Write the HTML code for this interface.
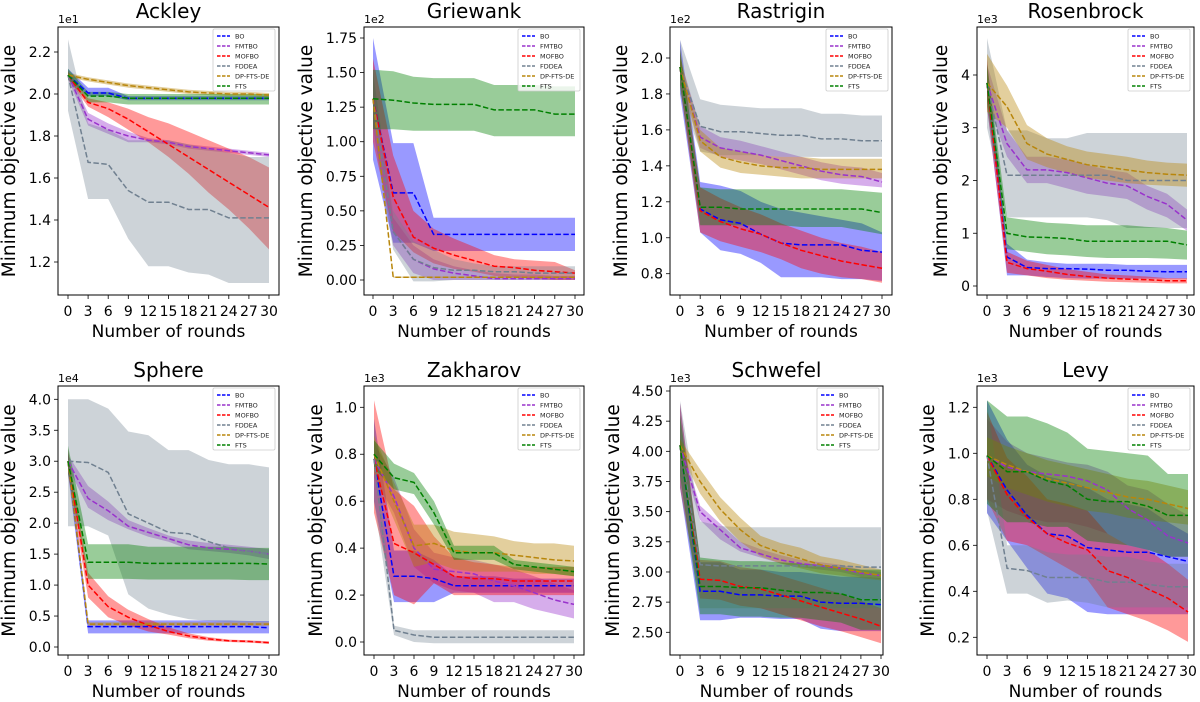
<!DOCTYPE html>
<html><head><meta charset="utf-8">
<style>
html,body{margin:0;padding:0;background:#fff;}
svg{display:block;font-family:"DejaVu Sans","Liberation Sans",sans-serif;}
</style></head>
<body>
<svg id="fig" width="1200" height="702" viewBox="0 0 1200 702" xmlns="http://www.w3.org/2000/svg"></svg>
<script>
const rounds = [0,3,6,9,12,15,18,21,24,27,30];
const seriesNames = ["BO","FMTBO","MOFBO","FDDEA","DP-FTS-DE","FTS"];
// Ackley (1e1)
const ackley_mean = [[2.09,2.005,2.005,1.98,1.98,1.98,1.98,1.98,1.98,1.98,1.98],[2.09,1.88,1.83,1.80,1.78,1.77,1.75,1.74,1.73,1.72,1.71],[2.09,1.96,1.93,1.88,1.82,1.76,1.70,1.64,1.58,1.52,1.46],[2.09,1.675,1.665,1.54,1.485,1.485,1.45,1.45,1.41,1.41,1.41],[2.09,2.07,2.055,2.04,2.03,2.02,2.01,2.005,2.0,2.0,1.995],[2.09,1.99,1.99,1.98,1.98,1.98,1.98,1.98,1.98,1.98,1.98]];
const ackley_lo = [[2.07,1.99,1.99,1.97,1.97,1.97,1.97,1.97,1.97,1.97,1.97],[2.07,1.85,1.81,1.77,1.77,1.76,1.74,1.73,1.72,1.71,1.70],[2.07,1.94,1.89,1.83,1.77,1.70,1.62,1.53,1.45,1.36,1.26],[1.92,1.50,1.50,1.31,1.18,1.18,1.15,1.14,1.10,1.10,1.10],[2.08,2.06,2.045,2.03,2.02,2.01,2.0,1.995,1.99,1.99,1.985],[2.07,1.96,1.96,1.95,1.95,1.95,1.95,1.95,1.95,1.95,1.95]];
const ackley_hi = [[2.12,2.03,2.03,1.99,1.99,1.99,1.99,1.99,1.99,1.99,1.99],[2.11,1.91,1.86,1.82,1.79,1.78,1.76,1.75,1.74,1.73,1.72],[2.11,1.98,1.96,1.93,1.89,1.86,1.82,1.78,1.74,1.70,1.65],[2.26,1.86,1.83,1.78,1.78,1.78,1.76,1.74,1.72,1.70,1.70],[2.10,2.08,2.065,2.05,2.04,2.03,2.02,2.015,2.01,2.01,2.005],[2.12,2.01,2.01,2.0,2.0,2.0,2.0,2.0,2.0,2.0,2.0]];
// Griewank (1e2)
const griewank_mean = [[1.31,0.63,0.63,0.33,0.33,0.33,0.33,0.33,0.33,0.33,0.33],[1.31,0.35,0.15,0.08,0.05,0.03,0.01,0.01,0.01,0.01,0.01],[1.31,0.60,0.31,0.23,0.18,0.14,0.10,0.09,0.07,0.06,0.05],[1.31,0.35,0.15,0.09,0.07,0.07,0.06,0.06,0.05,0.05,0.05],[1.31,0.02,0.02,0.02,0.02,0.02,0.02,0.02,0.02,0.02,0.02],[1.31,1.30,1.28,1.27,1.27,1.27,1.23,1.23,1.23,1.20,1.20]];
const griewank_lo = [[0.87,0.27,0.27,0.21,0.21,0.21,0.21,0.21,0.21,0.21,0.21],[1.1,0.25,0.05,0,0,0,0,0,0,0,0],[1.0,0.35,0.2,0.12,0.08,0.06,0.03,0.02,0.01,0.0,0.0],[1.1,0.22,-0.01,-0.01,0,0,0,0,0,0,0],[1.30,0.015,0.015,0.015,0.015,0.015,0.015,0.015,0.015,0.015,0.015],[1.09,1.09,1.08,1.08,1.08,1.08,1.04,1.04,1.04,1.04,1.04]];
const griewank_hi = [[1.75,0.99,0.99,0.45,0.45,0.45,0.45,0.45,0.45,0.45,0.45],[1.5,0.45,0.25,0.15,0.1,0.07,0.05,0.04,0.04,0.03,0.03],[1.6,0.9,0.5,0.37,0.30,0.24,0.18,0.15,0.14,0.13,0.07],[1.5,0.5,0.28,0.22,0.15,0.12,0.10,0.1,0.1,0.1,0.1],[1.32,0.025,0.025,0.025,0.025,0.025,0.025,0.025,0.025,0.025,0.025],[1.52,1.51,1.47,1.46,1.46,1.46,1.41,1.41,1.41,1.40,1.40]];
// Rastrigin (1e2)
const rastrigin_mean = [[1.95,1.16,1.10,1.08,1.02,0.97,0.96,0.96,0.96,0.93,0.92],[1.95,1.56,1.50,1.48,1.46,1.43,1.40,1.37,1.35,1.34,1.31],[1.95,1.15,1.09,1.05,1.02,0.97,0.93,0.90,0.87,0.85,0.83],[1.95,1.62,1.59,1.59,1.58,1.57,1.57,1.55,1.55,1.54,1.54],[1.95,1.54,1.45,1.42,1.40,1.39,1.39,1.38,1.38,1.38,1.38],[1.95,1.17,1.17,1.16,1.16,1.16,1.16,1.16,1.16,1.16,1.14]];
const rastrigin_lo = [[1.8,1.03,0.93,0.91,0.86,0.78,0.78,0.78,0.77,0.77,0.76],[1.9,1.50,1.45,1.43,1.41,1.38,1.35,1.32,1.30,1.29,1.28],[1.85,1.03,0.98,0.95,0.92,0.88,0.83,0.80,0.78,0.77,0.75],[1.8,1.48,1.46,1.46,1.46,1.45,1.45,1.45,1.45,1.45,1.45],[1.9,1.48,1.39,1.36,1.35,1.34,1.33,1.33,1.33,1.33,1.33],[1.85,1.07,1.07,1.07,1.07,1.07,1.06,1.06,1.06,1.04,1.02]];
const rastrigin_hi = [[2.1,1.31,1.29,1.26,1.2,1.16,1.14,1.12,1.1,1.08,1.03],[2.0,1.62,1.56,1.54,1.51,1.48,1.45,1.42,1.40,1.39,1.36],[2.05,1.28,1.22,1.17,1.13,1.08,1.04,1.0,0.97,0.95,0.92],[2.1,1.77,1.74,1.73,1.72,1.72,1.72,1.69,1.69,1.68,1.68],[2.0,1.60,1.50,1.48,1.46,1.45,1.45,1.44,1.44,1.44,1.44],[2.05,1.28,1.27,1.27,1.27,1.27,1.27,1.27,1.27,1.26,1.25]];
// Rosenbrock (1e3)
const rosen_mean = [[3.85,0.55,0.35,0.33,0.33,0.32,0.30,0.30,0.28,0.27,0.27],[3.85,2.7,2.2,2.2,2.15,2.05,1.95,1.9,1.7,1.55,1.25],[3.85,0.45,0.33,0.28,0.22,0.18,0.15,0.13,0.12,0.10,0.10],[3.85,2.1,2.1,2.1,2.1,2.1,2.1,2.0,2.0,2.0,2.0],[3.85,3.4,2.7,2.5,2.4,2.3,2.25,2.2,2.15,2.12,2.1],[3.85,1.0,0.93,0.92,0.9,0.85,0.85,0.85,0.85,0.85,0.78]];
const rosen_lo = [[3.4,0.2,0.2,0.17,0.15,0.14,0.14,0.14,0.14,0.14,0.14],[3.5,2.45,1.95,1.95,1.85,1.75,1.7,1.65,1.45,1.3,1.05],[3.4,0.25,0.2,0.15,0.12,0.1,0.08,0.07,0.06,0.05,0.05],[3.0,1.3,1.3,1.3,1.3,1.3,1.25,1.1,1.1,1.1,1.1],[3.3,3.0,2.4,2.25,2.15,2.05,2.0,1.95,1.92,1.9,1.88],[3.5,0.7,0.65,0.6,0.58,0.55,0.53,0.53,0.53,0.52,0.5]];
const rosen_hi = [[4.3,0.8,0.5,0.45,0.42,0.42,0.42,0.4,0.4,0.4,0.4],[4.2,2.95,2.45,2.45,2.4,2.3,2.2,2.15,1.9,1.75,1.45],[4.3,0.65,0.48,0.4,0.32,0.27,0.22,0.2,0.18,0.15,0.15],[4.7,2.95,2.95,2.8,2.8,2.9,2.9,2.9,2.9,2.9,2.9],[4.4,3.8,3.05,2.8,2.65,2.55,2.5,2.45,2.38,2.34,2.32],[4.2,1.3,1.25,1.2,1.18,1.15,1.15,1.15,1.12,1.1,1.05]];
// Sphere (1e4)
const sphere_mean = [[3.0,0.33,0.33,0.33,0.33,0.33,0.33,0.33,0.33,0.33,0.31],[3.0,2.4,2.2,1.95,1.85,1.75,1.65,1.6,1.58,1.55,1.5],[3.0,1.0,0.65,0.48,0.35,0.25,0.18,0.13,0.1,0.09,0.07],[3.0,2.98,2.82,2.15,2.0,1.85,1.83,1.7,1.6,1.55,1.5],[3.0,0.37,0.37,0.37,0.37,0.37,0.37,0.37,0.37,0.37,0.37],[3.0,1.37,1.37,1.37,1.35,1.35,1.35,1.35,1.35,1.35,1.34]];
const sphere_lo = [[2.8,0.22,0.22,0.22,0.22,0.22,0.22,0.22,0.22,0.22,0.22],[2.9,2.25,2.05,1.9,1.78,1.7,1.58,1.55,1.52,1.48,1.42],[2.8,0.8,0.48,0.35,0.25,0.2,0.14,0.1,0.08,0.07,0.05],[1.95,1.95,1.8,0.85,0.62,0.52,0.45,0.42,0.4,0.4,0.4],[2.97,0.34,0.34,0.34,0.34,0.34,0.34,0.34,0.34,0.34,0.34],[2.8,1.1,1.1,1.1,1.09,1.09,1.09,1.09,1.09,1.08,1.08]];
const sphere_hi = [[3.2,0.43,0.43,0.43,0.43,0.43,0.43,0.43,0.43,0.42,0.42],[3.1,2.6,2.35,2.05,1.92,1.8,1.72,1.68,1.65,1.62,1.58],[3.2,1.2,0.82,0.6,0.45,0.32,0.22,0.16,0.12,0.11,0.09],[4.0,4.0,3.85,3.48,3.42,3.18,3.18,3.02,2.95,2.95,2.9],[3.03,0.40,0.40,0.40,0.40,0.40,0.40,0.40,0.40,0.40,0.40],[3.25,1.66,1.66,1.66,1.62,1.62,1.62,1.62,1.62,1.6,1.6]];
// Zakharov (1e3)
const zak_mean = [[0.78,0.28,0.28,0.27,0.24,0.24,0.24,0.24,0.24,0.24,0.24],[0.78,0.62,0.4,0.31,0.3,0.29,0.26,0.24,0.21,0.18,0.16],[0.78,0.42,0.38,0.33,0.28,0.27,0.27,0.26,0.26,0.26,0.26],[0.78,0.05,0.03,0.02,0.02,0.02,0.02,0.02,0.02,0.02,0.02],[0.8,0.6,0.41,0.42,0.39,0.38,0.38,0.37,0.36,0.35,0.345],[0.8,0.7,0.68,0.55,0.38,0.38,0.38,0.33,0.32,0.31,0.30]];
const zak_lo = [[0.6,0.17,0.17,0.17,0.21,0.21,0.21,0.21,0.21,0.21,0.21],[0.7,0.55,0.32,0.25,0.22,0.21,0.17,0.17,0.14,0.12,0.1],[0.55,0.2,0.16,0.25,0.2,0.2,0.2,0.2,0.2,0.2,0.2],[0.6,0.03,0,-0.005,-0.005,-0.005,-0.005,-0.005,-0.005,-0.005,-0.005],[0.72,0.52,0.32,0.34,0.31,0.3,0.3,0.3,0.29,0.29,0.28],[0.74,0.65,0.63,0.5,0.35,0.35,0.35,0.31,0.3,0.29,0.28]];
const zak_hi = [[0.95,0.39,0.39,0.35,0.28,0.28,0.28,0.27,0.27,0.27,0.27],[0.85,0.7,0.48,0.38,0.36,0.35,0.33,0.31,0.28,0.25,0.22],[1.03,0.65,0.58,0.45,0.36,0.34,0.33,0.32,0.32,0.32,0.32],[0.95,0.07,0.05,0.05,0.05,0.05,0.05,0.05,0.05,0.05,0.05],[0.88,0.68,0.5,0.5,0.47,0.46,0.45,0.43,0.42,0.42,0.41],[0.86,0.76,0.72,0.6,0.41,0.41,0.41,0.35,0.34,0.33,0.32]];
// Schwefel (1e3)
const schw_mean = [[4.05,2.84,2.84,2.81,2.81,2.80,2.80,2.75,2.74,2.74,2.73],[4.05,3.5,3.35,3.2,3.15,3.1,3.07,3.05,3.03,2.99,2.97],[4.05,2.94,2.93,2.88,2.86,2.81,2.76,2.71,2.66,2.61,2.55],[4.05,3.06,3.05,3.05,3.05,3.05,3.05,3.05,3.05,3.04,3.04],[4.05,3.75,3.52,3.35,3.22,3.16,3.11,3.06,3.03,3.0,2.97],[4.05,2.88,2.88,2.87,2.87,2.85,2.83,2.83,2.82,2.77,2.77]];
const schw_lo = [[3.7,2.6,2.6,2.62,2.62,2.61,2.61,2.53,2.51,2.51,2.51],[4.0,3.43,3.27,3.17,3.12,3.07,3.04,3.02,3.0,2.96,2.94],[3.7,2.78,2.77,2.72,2.7,2.65,2.6,2.55,2.51,2.46,2.41],[3.7,2.7,2.7,2.7,2.7,2.7,2.7,2.7,2.7,2.7,2.7],[4.0,3.65,3.42,3.25,3.13,3.07,3.03,2.99,2.97,2.95,2.93],[3.8,2.65,2.65,2.63,2.63,2.62,2.62,2.6,2.58,2.52,2.52]];
const schw_hi = [[4.4,3.08,3.08,3.02,3.02,3.0,3.0,2.98,2.96,2.96,2.95],[4.1,3.55,3.4,3.25,3.19,3.14,3.1,3.08,3.06,3.02,3.0],[4.4,3.1,3.09,3.04,3.02,2.97,2.92,2.87,2.82,2.76,2.7],[4.42,3.42,3.38,3.37,3.37,3.37,3.37,3.37,3.37,3.37,3.37],[4.1,3.85,3.62,3.45,3.3,3.24,3.2,3.13,3.1,3.06,3.02],[4.3,3.12,3.1,3.09,3.09,3.08,3.07,3.06,3.04,3.02,3.02]];
// Levy (1e3)
const levy_mean = [[0.99,0.84,0.73,0.65,0.64,0.59,0.58,0.57,0.57,0.55,0.53],[0.99,0.94,0.92,0.91,0.9,0.88,0.84,0.76,0.71,0.64,0.61],[0.99,0.82,0.72,0.65,0.61,0.58,0.49,0.46,0.41,0.37,0.31],[0.99,0.5,0.49,0.46,0.46,0.46,0.44,0.44,0.43,0.42,0.42],[0.99,0.95,0.92,0.89,0.87,0.85,0.83,0.81,0.8,0.78,0.76],[0.99,0.92,0.92,0.88,0.86,0.8,0.79,0.79,0.77,0.73,0.73]];
const levy_lo = [[0.74,0.62,0.5,0.39,0.37,0.31,0.3,0.3,0.3,0.3,0.3],[0.8,0.75,0.72,0.7,0.7,0.68,0.65,0.6,0.58,0.55,0.55],[0.8,0.62,0.6,0.55,0.5,0.45,0.33,0.3,0.27,0.23,0.18],[0.75,0.39,0.39,0.35,0.36,0.35,0.33,0.33,0.33,0.33,0.33],[0.9,0.85,0.82,0.79,0.77,0.75,0.74,0.72,0.71,0.7,0.69],[0.78,0.7,0.7,0.68,0.68,0.62,0.61,0.6,0.58,0.55,0.55]];
const levy_hi = [[1.23,1.06,0.95,0.9,0.88,0.85,0.8,0.78,0.76,0.7,0.65],[1.15,1.05,1.0,0.98,0.96,0.95,0.92,0.86,0.84,0.78,0.73],[1.18,0.98,0.9,0.8,0.78,0.75,0.65,0.6,0.58,0.52,0.45],[1.23,0.6,0.6,0.57,0.56,0.56,0.55,0.55,0.53,0.52,0.52],[1.07,1.03,1.0,0.97,0.95,0.93,0.91,0.89,0.88,0.86,0.84],[1.23,1.16,1.16,1.13,1.09,1.02,1.01,1.0,0.99,0.91,0.91]];

const colors = ["#0000ff","#9932cc","#ff0000","#708090","#b8860b","#008000"];
const fillOp = [0.4,0.4,0.4,0.35,0.4,0.4];

const NS = "http://www.w3.org/2000/svg";
const fig = document.getElementById("fig");
function mk(tag, attrs, parent){
  const e = document.createElementNS(NS, tag);
  for (const k in attrs) e.setAttribute(k, attrs[k]);
  (parent||fig).appendChild(e);
  return e;
}

const panels = [
 {name:"ackley", title:"Ackley", exp:"1e1", L:58,R:279,T:27,B:295, x0:68,x1:269, v1:2.2,p1:52,v2:1.2,p2:262, ticks:[1.2,1.4,1.6,1.8,2.0,2.2], dec:1, labC:9, mean:ackley_mean, lo:ackley_lo, hi:ackley_hi},
 {name:"griewank", title:"Griewank", exp:"1e2", L:364,R:584,T:27,B:295, x0:373,x1:575, v1:1.75,p1:38,v2:0,p2:280, ticks:[0,0.25,0.5,0.75,1.0,1.25,1.5,1.75], dec:2, labC:306, mean:griewank_mean, lo:griewank_lo, hi:griewank_hi},
 {name:"rastrigin", title:"Rastrigin", exp:"1e2", L:670,R:892,T:27,B:295, x0:680,x1:882, v1:2.0,p1:58,v2:0.8,p2:273.7, ticks:[0.8,1.0,1.2,1.4,1.6,1.8,2.0], dec:1, labC:621, mean:rastrigin_mean, lo:rastrigin_lo, hi:rastrigin_hi},
 {name:"rosenbrock", title:"Rosenbrock", exp:"1e3", L:977,R:1194,T:27,B:295, x0:987,x1:1187, v1:4,p1:75,v2:0,p2:286, ticks:[0,1,2,3,4], dec:0, labC:941, mean:rosen_mean, lo:rosen_lo, hi:rosen_hi},
 {name:"sphere", title:"Sphere", exp:"1e4", L:58,R:279,T:386,B:655, x0:68,x1:269, v1:4.0,p1:399.3,v2:0,p2:647, ticks:[0,0.5,1.0,1.5,2.0,2.5,3.0,3.5,4.0], dec:1, labC:9, mean:sphere_mean, lo:sphere_lo, hi:sphere_hi},
 {name:"zakharov", title:"Zakharov", exp:"1e3", L:364,R:584,T:386,B:655, x0:374,x1:574, v1:1.0,p1:407.3,v2:0,p2:642, ticks:[0,0.2,0.4,0.6,0.8,1.0], dec:1, labC:316, mean:zak_mean, lo:zak_lo, hi:zak_hi},
 {name:"schwefel", title:"Schwefel", exp:"1e3", L:670,R:883,T:386,B:655, x0:680,x1:881, v1:4.5,p1:391,v2:2.5,p2:632.3, ticks:[2.5,2.75,3.0,3.25,3.5,3.75,4.0,4.25,4.5], dec:2, labC:613, mean:schw_mean, lo:schw_lo, hi:schw_hi},
 {name:"levy", title:"Levy", exp:"1e3", L:977,R:1194,T:386,B:655, x0:987,x1:1188, v1:1.2,p1:407.3,v2:0.2,p2:637.3, ticks:[0.2,0.4,0.6,0.8,1.0,1.2], dec:1, labC:928, mean:levy_mean, lo:levy_lo, hi:levy_hi}
];

panels.forEach(P => {
  const g = mk("g", {});
  
  
  const xs = v => P.x0 + (v - 0) / 30 * (P.x1 - P.x0);
  const ys = v => P.p1 + (v - P.v1) / (P.v2 - P.v1) * (P.p2 - P.p1);
  const clipId = "clip-" + P.name;
  const cp = mk("clipPath", {id: clipId}, g);
  mk("rect", {x:P.L, y:P.T, width:P.R-P.L, height:P.B-P.T}, cp);
  const plot = mk("g", {"clip-path":"url(#"+clipId+")"}, g);
  for (let s = 0; s < 6; s++) {
    let d = "";
    rounds.forEach((r,i) => { d += (i?"L":"M") + xs(r).toFixed(1) + "," + ys(P.hi[s][i]).toFixed(1); });
    for (let i = rounds.length-1; i >= 0; i--) d += "L" + xs(rounds[i]).toFixed(1) + "," + ys(P.lo[s][i]).toFixed(1);
    const band = mk("path", {d: d+"Z", fill: colors[s], "fill-opacity": fillOp[s], stroke: "none"}, plot);
    
    
  }
  for (let s = 0; s < 6; s++) {
    const pts = rounds.map((r,i) => xs(r).toFixed(1) + "," + ys(P.mean[s][i]).toFixed(1)).join(" ");
    const ln = mk("polyline", {points: pts, fill:"none", stroke: colors[s], "stroke-width":1.5, "stroke-dasharray":"5.5,2.4"}, plot);
    
    
  }
  const frame = mk("rect", {x:P.L, y:P.T, width:P.R-P.L, height:P.B-P.T, fill:"none", stroke:"#000", "stroke-width":1}, g);
  
  
  rounds.forEach(r => {
    const x = xs(r);
    mk("line", {x1:x, y1:P.B, x2:x, y2:P.B+4, stroke:"#000", "stroke-width":0.8}, g);
    const t = mk("text", {x:x, y:P.B+21, "text-anchor":"middle", "font-size":14, fill:"#000"}, g);
    t.textContent = r;
    
    
  });
  P.ticks.forEach(v => {
    const y = ys(v);
    mk("line", {x1:P.L-4, y1:y, x2:P.L, y2:y, stroke:"#000", "stroke-width":0.8}, g);
    const t = mk("text", {x:P.L-7, y:y+5, "text-anchor":"end", "font-size":14, fill:"#000"}, g);
    t.textContent = v.toFixed(P.dec);
    
    
  });
  const ex = mk("text", {x:P.L, y:P.T-4, "font-size":11, fill:"#000"}, g);
  ex.textContent = P.exp;
  
  
  const ti = mk("text", {x:(P.L+P.R)/2, y:P.T-9, "text-anchor":"middle", "font-size":20, fill:"#000"}, g);
  ti.textContent = P.title;
  
  
  const xl = mk("text", {x:(P.L+P.R)/2, y:P.B+42, "text-anchor":"middle", "font-size":17, fill:"#000"}, g);
  xl.textContent = "Number of rounds";
  
  
  const cy = (P.T+P.B)/2;
  const yl = mk("text", {x:P.labC, y:cy+6, "text-anchor":"middle", "font-size":18.5, fill:"#000", transform:"rotate(-90 "+P.labC+" "+cy+")"}, g);
  yl.textContent = "Minimum objective value";
  
  
  const lg = mk("g", {}, g);
  
  
  const lx = P.R - 66, ly = P.T + 2;
  mk("rect", {x:lx, y:ly, width:62, height:62, fill:"#fff", "fill-opacity":0.8, stroke:"#ccc", "stroke-width":0.8, rx:1.5}, lg);
  seriesNames.forEach((n, s) => {
    const yy = ly + 7 + s*10;
    mk("line", {x1:lx+4, y1:yy, x2:lx+17, y2:yy, stroke:colors[s], "stroke-width":1.5, "stroke-dasharray":"3.5,1.5"}, lg);
    const t = mk("text", {x:lx+22, y:yy+2.3, "font-size":6.5, fill:"#222"}, lg);
    t.textContent = n;
    
    
  });
});
</script>
</body></html>
